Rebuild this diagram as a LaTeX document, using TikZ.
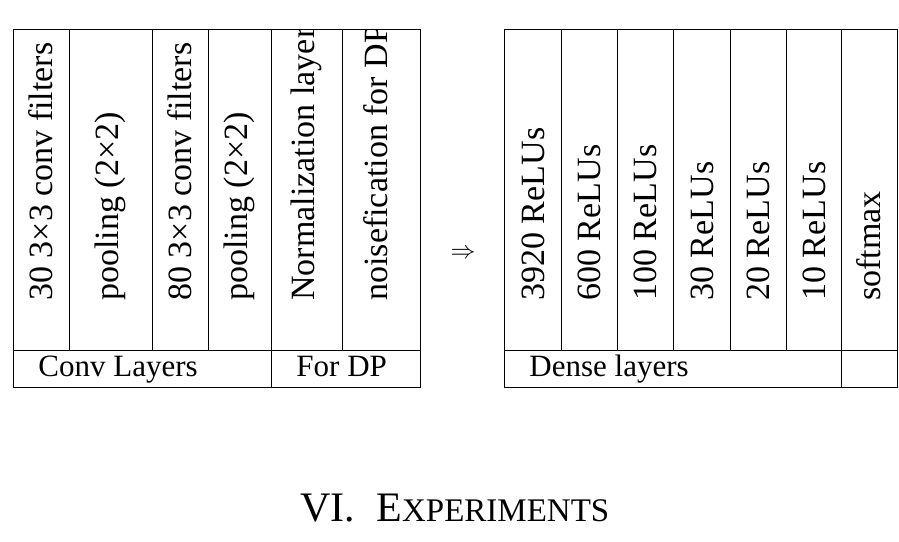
\documentclass[tikz,border=0pt]{standalone}
\usepackage{fontspec}
\setmainfont{Liberation Serif}
\begin{document}
\begin{tikzpicture}[x=1pt,y=-1pt,line width=0.9pt,
  vtxt/.style={rotate=90,anchor=west,font=\fontsize{34}{38}\selectfont,inner sep=0pt},
  htxt/.style={anchor=base west,font=\fontsize{31}{34}\selectfont,inner sep=0pt}]
\useasboundingbox (0,0) rectangle (899,541);
% left table
\draw (13,29) rectangle (420,387);
\draw (13,350) -- (420,350);
\foreach \x in {69,152,208,342} \draw (\x,29) -- (\x,350);
\draw (271,29) -- (271,387);
\begin{scope}
\clip (13,29) rectangle (420,350);
\node[vtxt] (a1) at (41,301) {30 3×3 conv filters};
\node[vtxt] (a2) at (110,301) {pooling (2×2)};
\node[vtxt] (a3) at (180,301) {80 3×3 conv filters};
\node[vtxt] (a4) at (239,301) {pooling (2×2)};
\node[vtxt] (a5) at (306,301) {Normalization layer};
\node[vtxt] (a6) at (376,301) {noisefication for DP};
\end{scope}
\node[htxt] (l1) at (38,376) {Conv Layers};
\node[htxt] (l2) at (296,376) {For DP};
% arrow
\node[font=\fontsize{30}{34}\selectfont] (arr) at (463,254) {$\Rightarrow$};
% right table
\draw (504,29) rectangle (897,387);
\draw (504,350) -- (897,350);
\foreach \x in {561,617,673,730,786} \draw (\x,29) -- (\x,350);
\draw (841,29) -- (841,387);
\node[vtxt] (b1) at (533,301) {3920 ReLUs};
\node[vtxt] (b2) at (589,301) {600 ReLUs};
\node[vtxt] (b3) at (645,301) {100 ReLUs};
\node[vtxt] (b4) at (702,301) {30 ReLUs};
\node[vtxt] (b5) at (758,301) {20 ReLUs};
\node[vtxt] (b6) at (814,301) {10 ReLUs};
\node[vtxt] (b7) at (869,301) {softmax};
\node[htxt] (l3) at (529,376) {Dense layers};
% title
\node[inner sep=0pt] (title) at (455,508) {\fontsize{42}{48}\selectfont VI.\ \ E{\fontsize{33}{40}\selectfont XPERIMENTS}};
\end{tikzpicture}
\end{document}
